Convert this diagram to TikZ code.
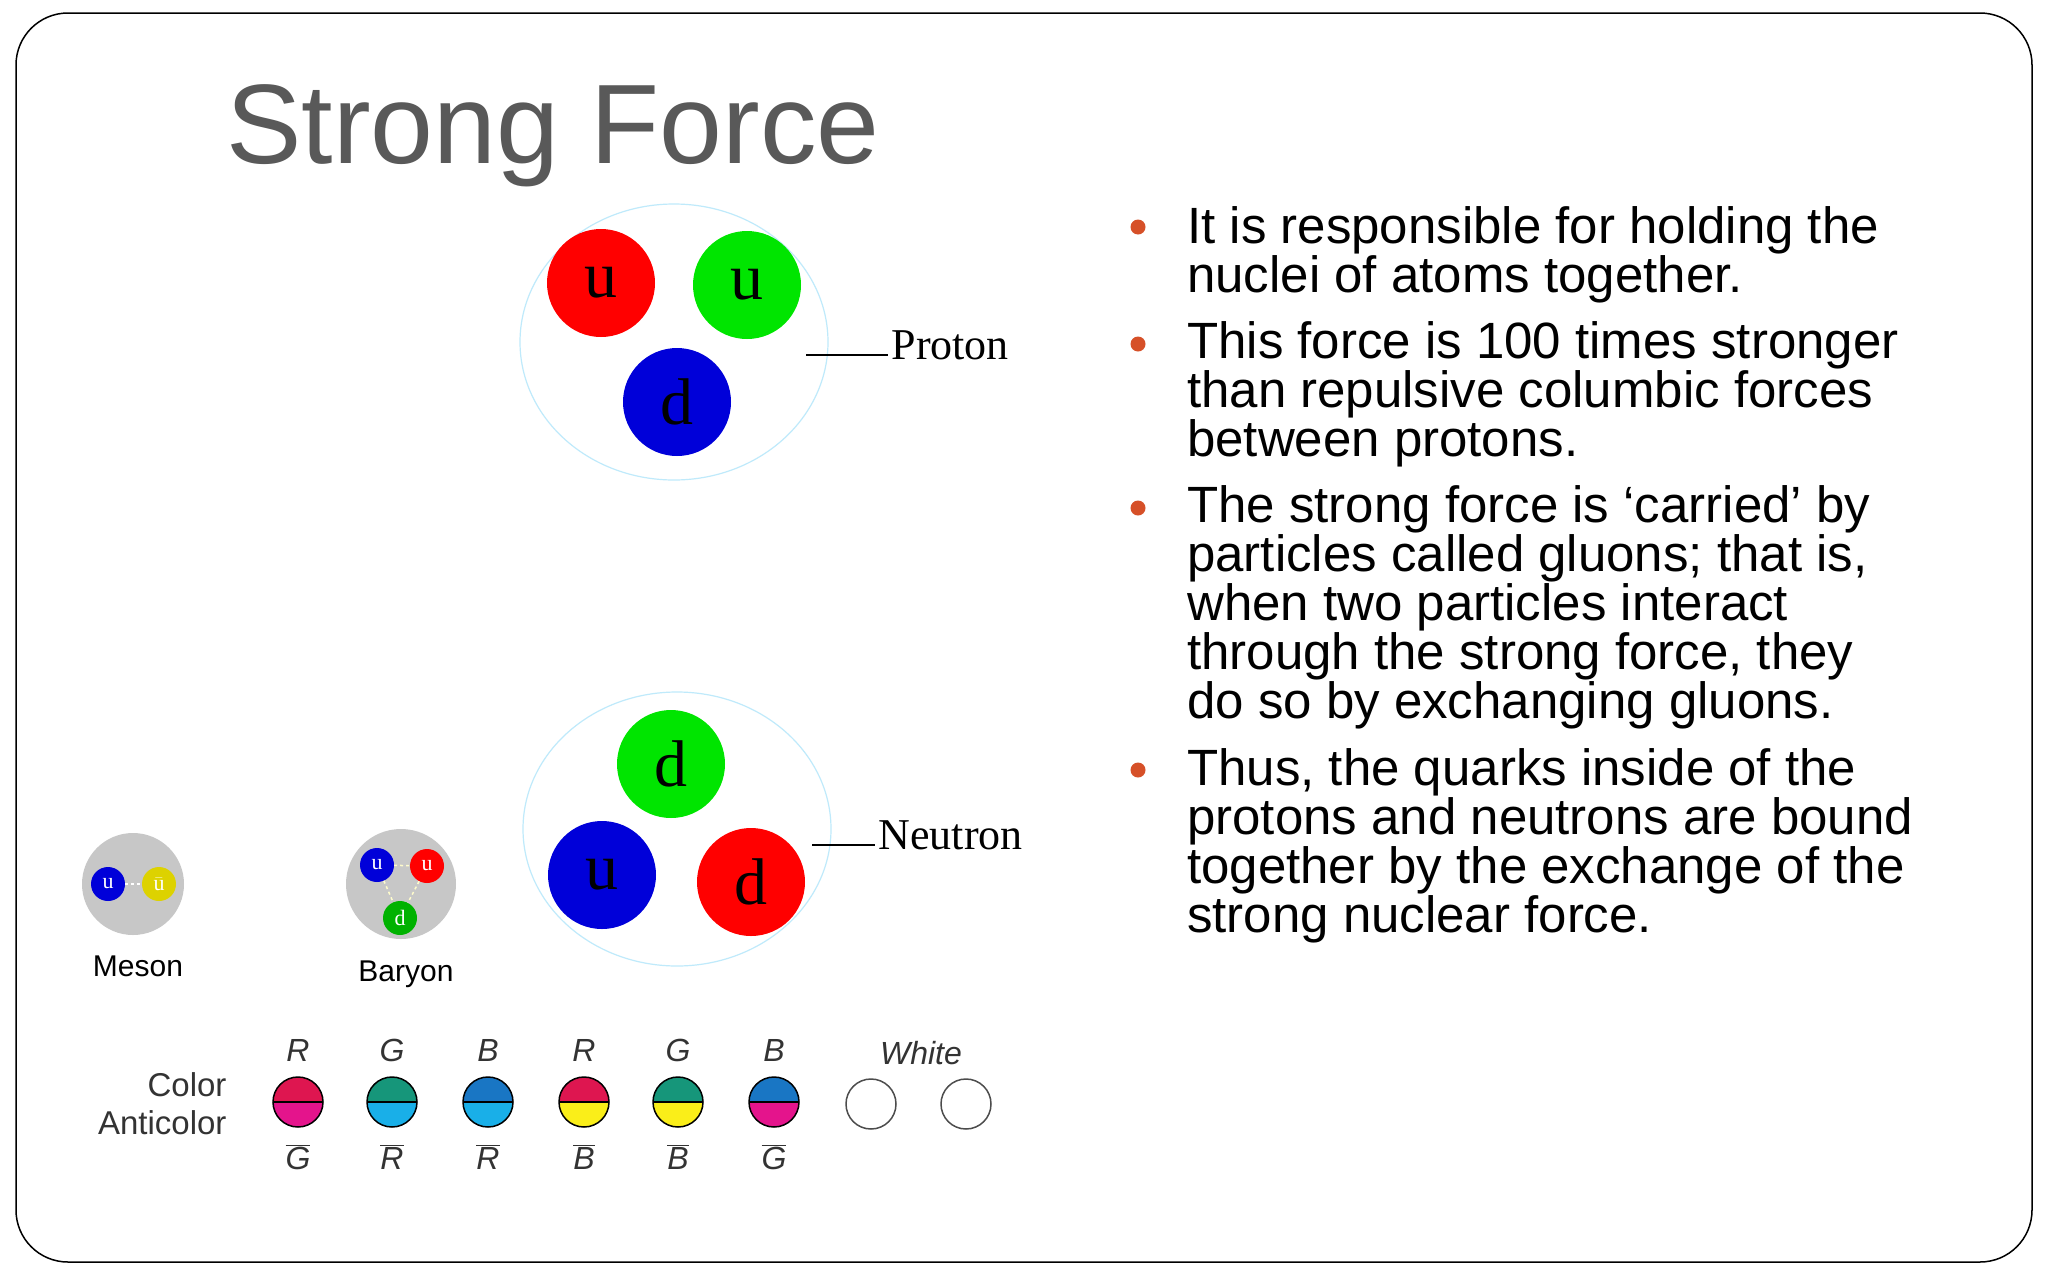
\documentclass[tikz,border=0pt]{standalone}
\usepackage{fontspec}
\setmainfont{Liberation Serif}
\setsansfont{Liberation Sans}
\begin{document}
\begin{tikzpicture}[x=1pt,y=-1pt,
  quark/.style={circle,minimum size=108pt,inner sep=0pt,font=\fontsize{66}{66}\selectfont\rmfamily},
  small/.style={circle,minimum size=34pt,inner sep=0pt,font=\fontsize{22}{22}\selectfont\rmfamily},
  lbl/.style={font=\fontsize{44}{44}\selectfont\rmfamily,anchor=west},
  caplbl/.style={font=\fontsize{30}{30}\selectfont\sffamily},
  cc/.style={font=\fontsize{32}{32}\selectfont\sffamily\itshape},
  bline/.style={font=\fontsize{51}{51}\selectfont\sffamily,anchor=base west,inner sep=0pt},
  dot/.style={circle,fill=bulc,minimum size=15pt,inner sep=0pt}]
\definecolor{bulc}{RGB}{214,80,40}
\definecolor{cR}{RGB}{222,22,80}
\definecolor{cG}{RGB}{22,150,122}
\definecolor{cB}{RGB}{25,118,196}
\definecolor{aG}{RGB}{228,20,140}
\definecolor{aR}{RGB}{25,175,232}
\definecolor{aB}{RGB}{250,238,25}
\useasboundingbox (0,0) rectangle (2048,1280);
\fill[white] (0,0) rectangle (2048,1280);
\draw[line width=1.5pt,rounded corners=52pt] (16,13) rectangle (2032,1262);
\node[font=\fontsize{113}{113}\selectfont\sffamily,text=black!65] (title) at (553,136) {Strong Force};
% proton
\draw[draw=cyan!25,line width=1.2pt] (674,342) ellipse (154 and 138);
\node[quark,fill=red] (p1) at (601,283) {u};
\node[quark,fill=green!90!black] (p2) at (747,285) {u};
\node[quark,fill=blue!85!black] (p3) at (677,402) {d};
\coordinate (pl1) at (806,355);
\node[lbl] (proton) at (888,345) {Proton};
\draw[line width=1.5pt] (pl1) -- (proton.west |- pl1);
% neutron
\draw[draw=cyan!25,line width=1.2pt] (677,829) ellipse (154 and 137);
\node[quark,fill=green!90!black] (n1) at (671,764) {d};
\node[quark,fill=blue!85!black] (n2) at (602,875) {u};
\node[quark,fill=red] (n3) at (751,882) {d};
\coordinate (nl1) at (812,845);
\node[lbl] (neutron) at (875,835) {Neutron};
\draw[line width=1.5pt] (nl1) -- (neutron.west |- nl1);
% meson
\node[circle,fill=black!22,minimum size=102pt] (meson) at (133,884) {};
\node[small,fill=blue!85!black,text=white] (m1) at (108,884) {u};
\node[small,fill=yellow!70!olive,text=white] (m2) at (159,884) {$\bar{\mathrm{u}}$};
\draw[white,line width=1.5pt,dashed] (m1) -- (m2);
\node[caplbl] (mesonl) at (138,966) {Meson};
% baryon
\node[circle,fill=black!22,minimum size=110pt] (baryon) at (401,884) {};
\node[small,fill=blue!85!black,text=white] (b1) at (377,865) {u};
\node[small,fill=red,text=white] (b2) at (427,866) {u};
\node[small,fill=green!70!black,text=white] (b3) at (400,918) {d};
\draw[white!80!yellow,line width=1.5pt,dashed] (b1) -- (b2) (b2) -- (b3) (b1) -- (b3);
\node[caplbl] (baryonl) at (406,974) {Baryon};
% colour chart
\node[font=\fontsize{33}{33}\selectfont\sffamily,anchor=east,text=black!80] (colorl) at (230,1085) {Color};
\node[font=\fontsize{33}{33}\selectfont\sffamily,anchor=east,text=black!80] (anticl) at (230,1123) {Anticolor};
\foreach \x/\t/\b/\tl/\bl [count=\i] in {298/cR/aG/R/G,392/cG/aR/G/R,488/cB/aR/B/R,584/cR/aB/R/B,678/cG/aB/G/B,774/cB/aG/B/G}{
  \fill[\b] (\x,1102) ++(-25,0) arc (180:0:25) -- cycle;
  \fill[\t] (\x,1102) ++(25,0) arc (0:-180:25) -- cycle;
  \draw[line width=1.5pt] (\x,1102) circle (25);
  \draw[line width=1.2pt] (\x-25,1102) -- (\x+25,1102);
  \node[cc,text=black!80] (top\i) at (\x,1050) {\tl};
  \node[cc,text=black!80] (bot\i) at (\x,1157) {$\overline{\mbox{\bl}}$};
}
\draw[line width=1.5pt,black!70] (871,1104) circle (25) (966,1104) circle (25);
\node[cc,text=black!80] (white) at (921,1053) {White};
% bullets
\foreach \y in {227,344,508,770}{\node[dot] at (1138,\y) {};}
\foreach \y/\t in {243/{It is responsible for holding the},292/{nuclei of atoms together.},
358/{This force is 100 times stronger},407/{than repulsive columbic forces},456/{between protons.},
522/{The strong force is ‘carried’ by},571/{particles called gluons; that is,},620/{when two particles interact},669/{through the strong force, they},718/{do so by exchanging gluons.},
785/{Thus, the quarks inside of the},834/{protons and neutrons are bound},883/{together by the exchange of the},932/{strong nuclear force.}}{
  \node[bline] at (1187,\y) {\t};}
\end{tikzpicture}
\end{document}
